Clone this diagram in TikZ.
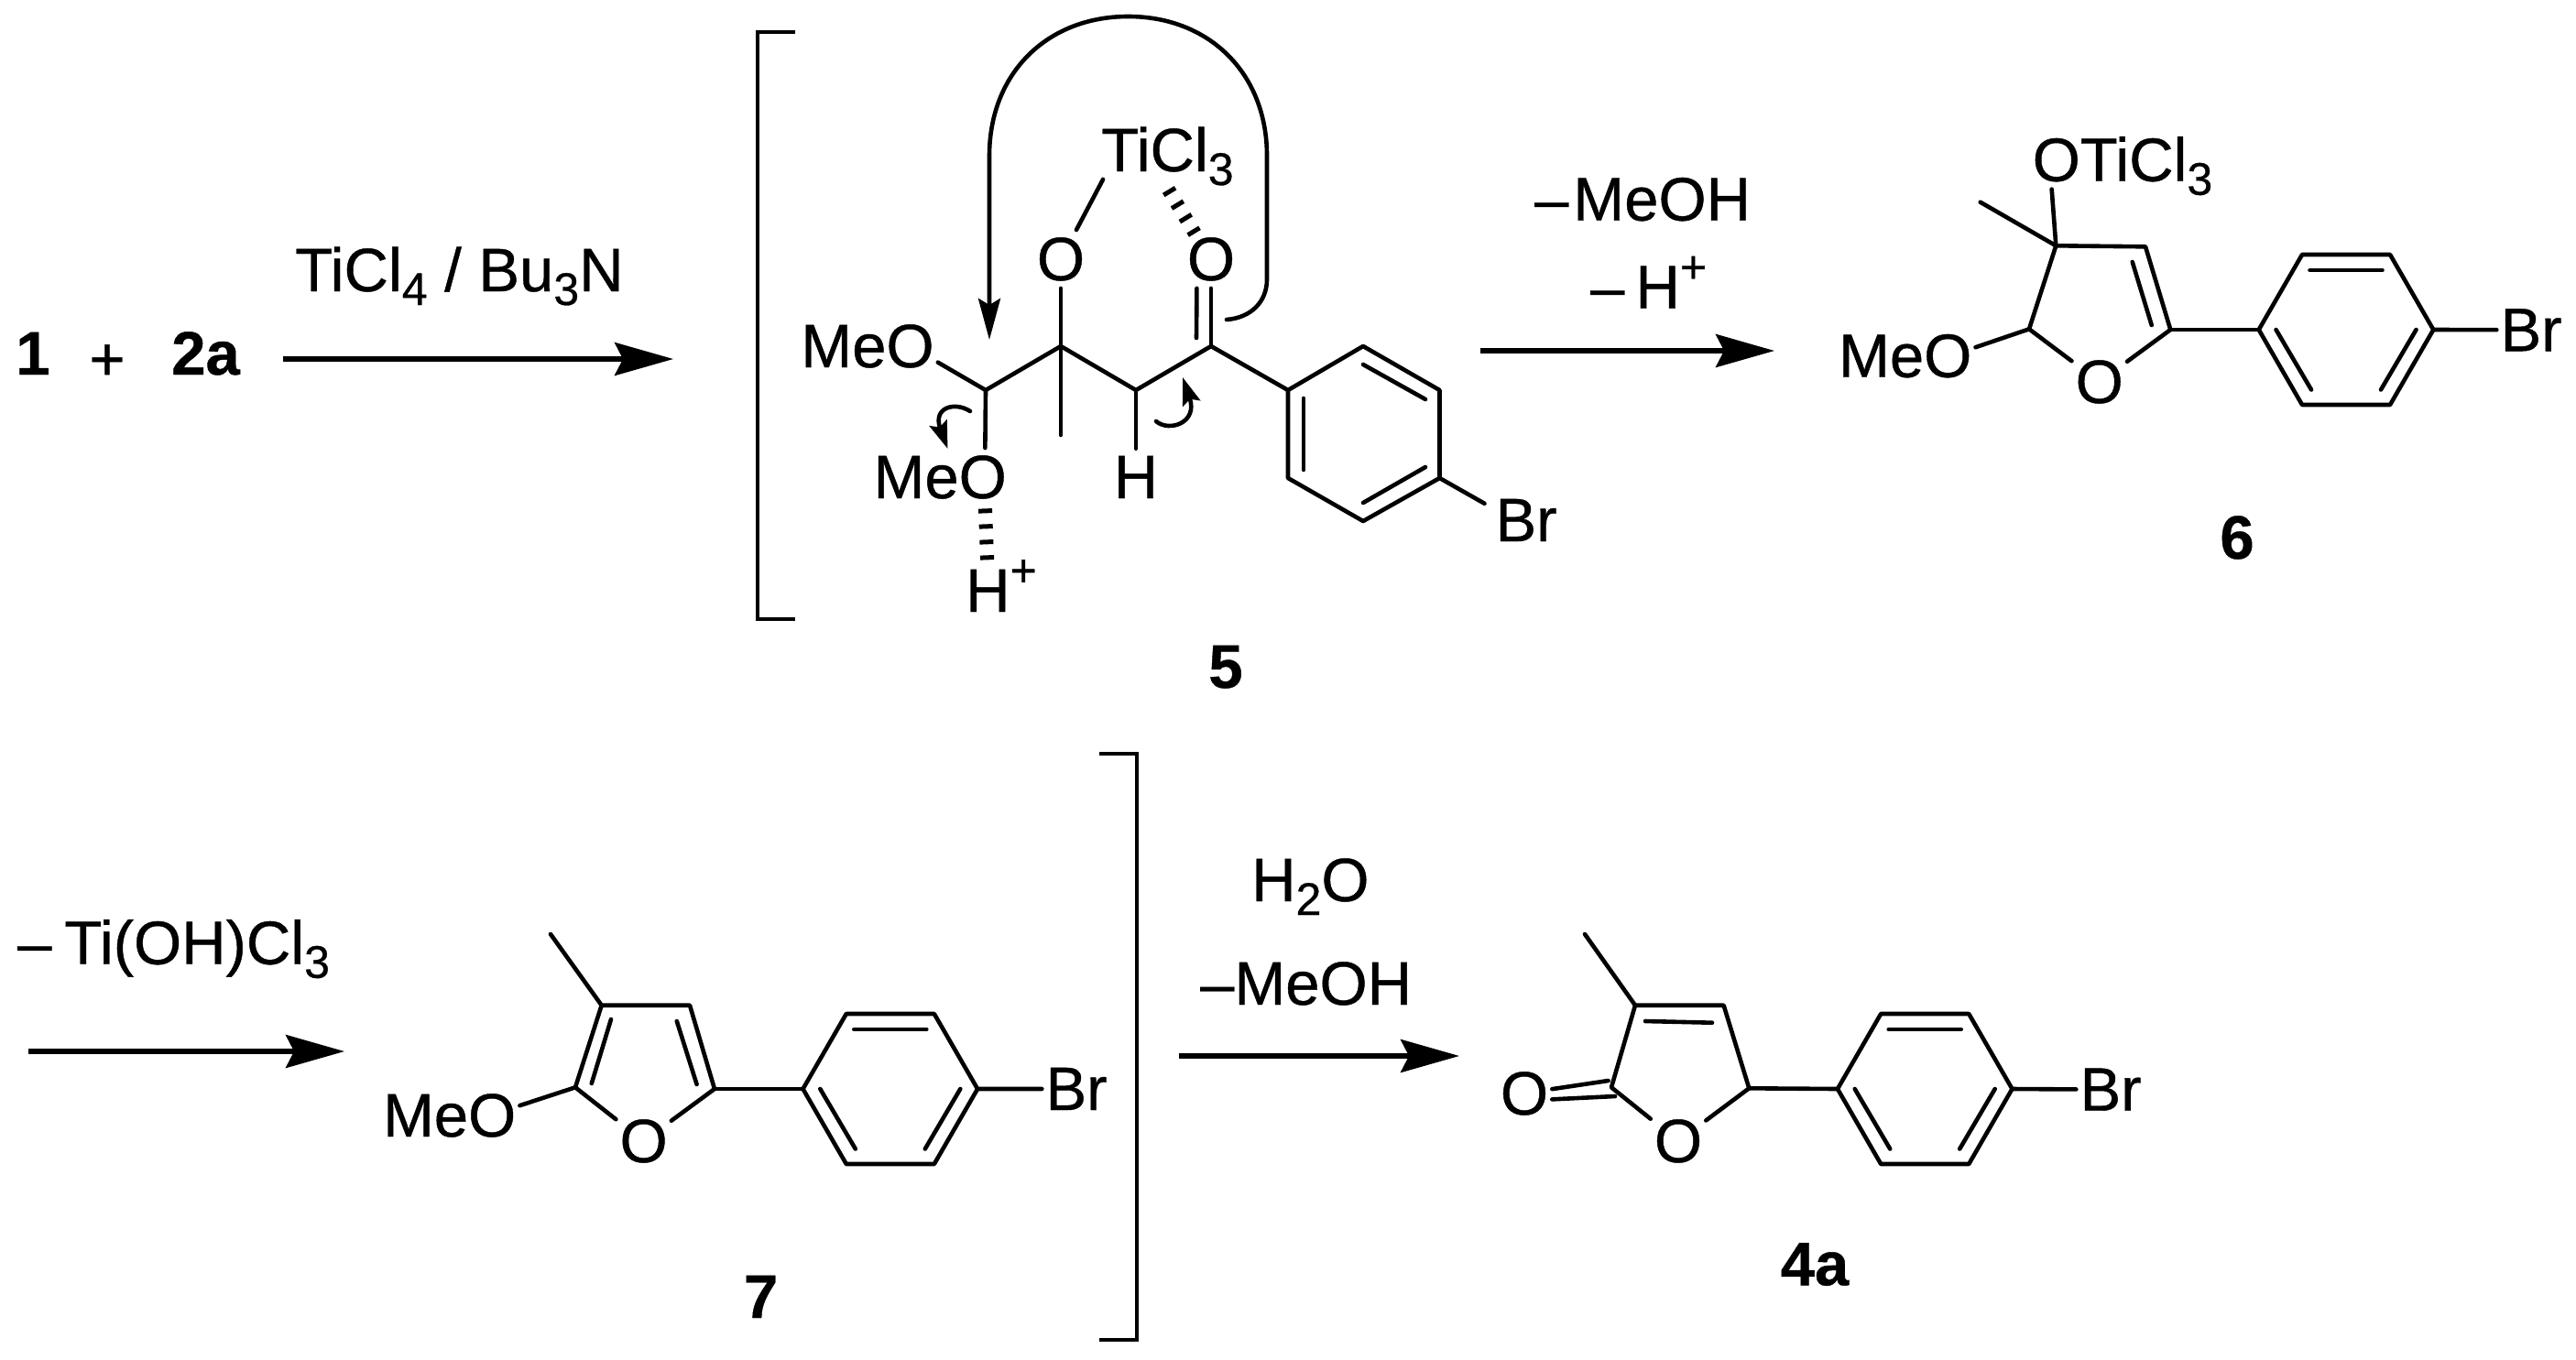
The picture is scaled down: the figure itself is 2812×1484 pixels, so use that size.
\documentclass[tikz,border=0pt]{standalone}
\usepackage{fontspec}
\setmainfont{Liberation Sans}[FakeBold=0.6]
\usetikzlibrary{arrows.meta}
\newcommand{\lowr}[1]{\smash{\raisebox{-15pt}{\fontsize{50}{50}\selectfont #1}}}
\newcommand{\highr}{\smash{\raisebox{28pt}{\fontsize{50}{50}\selectfont +}}}
\newcommand{\flatring}[2]{%
    \begin{scope}[shift={#2}]
        \coordinate (#1_l) at (-95.3,0);
        \coordinate (#1_ul) at (-48,-82);
        \coordinate (#1_ur) at (48,-82);
        \coordinate (#1_r) at (95.3,0);
        \coordinate (#1_lr) at (48,82);
        \coordinate (#1_ll) at (-48,82);
        \coordinate (#1_a) at (-39.5,-65);
        \coordinate (#1_b) at (39.5,-65);
        \coordinate (#1_c) at (-76.5,0);
        \coordinate (#1_d) at (-38,65.5);
        \coordinate (#1_e) at (76.5,0);
        \coordinate (#1_f) at (38,65.5);
    \end{scope}
    \draw[bond] (#1_l) -- (#1_ul) -- (#1_ur) -- (#1_r) -- (#1_lr) -- (#1_ll) -- cycle;
    \path[bond] (#1_a) edge (#1_b) (#1_c) edge (#1_d) (#1_e) edge (#1_f);
}
\tikzset{
    bond/.style={draw,line width=4.6pt,line cap=round,line join=round},
    brk/.style={draw,line width=4.6pt,line join=miter},
    hash/.style={draw,line width=15pt,dash pattern=on 5pt off 12pt},
    rxn/.style={draw,line width=5.2pt,-{Stealth[length=64pt,width=36pt,inset=9pt]}},
    bigarr/.style={draw,line width=4.6pt,line cap=round,-{Stealth[length=45pt,width=24pt,inset=7pt]}},
    curly/.style={draw,line width=4.6pt,line cap=round,-{Stealth[length=30pt,width=20pt,inset=5pt]}},
    atom/.style={font=\fontsize{67}{70}\selectfont,inner xsep=4pt,inner ysep=8pt,anchor=base},
    lab/.style={font=\fontsize{67}{70}\selectfont,inner sep=0pt,anchor=base west},
    num/.style={font=\fontsize{67}{70}\selectfont\bfseries,inner sep=0pt,anchor=base}
}
\begin{document}
\begin{tikzpicture}[x=1pt,y=-1pt]
    \useasboundingbox (0,0) rectangle (2812,1484);

    \node[num] (n_1) at (36,409) {1};
    \node[lab,anchor=base] (plus) at (117,415) {+};
    \node[num] (n_2a) at (224.5,409) {2a};
    \node[lab] (tibu) at (322,318) {TiCl\lowr{4} / Bu\lowr{3}N};
    \coordinate (a_1s) at (309,392);
    \coordinate (a_1e) at (735,392);
    \path[rxn] (a_1s) -- (a_1e);

    \coordinate (bl_1) at (868,35);
    \coordinate (bl_2) at (827,35);
    \coordinate (bl_3) at (827,676);
    \coordinate (bl_4) at (868,676);
    \draw[brk] (bl_1) -- (bl_2) -- (bl_3) -- (bl_4);

    \coordinate (c_1) at (1076,426);
    \coordinate (c_2) at (1158,378);
    \coordinate (c_3) at (1240,426);
    \coordinate (c_4) at (1322,378);
    \coordinate (me_5) at (1158,475);
    \coordinate (dbl_5) at (1306,369);
    \coordinate (p_l) at (1406,426);
    \coordinate (p_t) at (1488,378);
    \coordinate (p_ur) at (1571.5,426);
    \coordinate (p_lr) at (1571.5,522);
    \coordinate (p_b) at (1488,569);
    \coordinate (p_ll) at (1406,522);
    \coordinate (p_a) at (1423,435);
    \coordinate (p_c) at (1423,513);
    \coordinate (p_d) at (1488,398);
    \coordinate (p_e) at (1556,436);
    \coordinate (p_f) at (1488,549);
    \coordinate (p_g) at (1556,510);
    \node[atom] (meo_a) at (947,401) {MeO};
    \node[atom,anchor=base east] (meo_b) at (1103,544) {MeO};
    \node[atom] (o_a) at (1158,306) {O};
    \node[atom] (o_b) at (1322,306) {O};
    \node[atom] (h_5) at (1240,544) {H};
    \node[atom] (hp_5) at (1093,668) {H\highr};
    \node[atom] (br_5) at (1666,591) {Br};
    \node[atom,anchor=base west] (ti_5) at (1198,187) {TiCl\lowr{3}};
    \draw[bond] (meo_a.-13) -- (c_1) -- (c_2) -- (c_3) -- (c_4) -- (p_l);
    \draw[bond] (p_l) -- (p_t) -- (p_ur) -- (p_lr) -- (p_b) -- (p_ll) -- cycle;
    \path[bond]
        (c_1) edge (meo_b.33.4)
        (c_2) edge (me_5)
        (c_2) edge (o_a)
        (c_3) edge (h_5)
        (c_4) edge (o_b)
        (dbl_5) edge (o_b.-116.6)
        (o_a.62) edge (ti_5.205.2)
        (p_a) edge (p_c)
        (p_d) edge (p_e)
        (p_f) edge (p_g);
    \draw[bond,shorten >=9pt] (p_lr) -- (br_5.160);
    \draw[hash,shorten <=13pt,shorten >=-5pt] (ti_5.260) -- (o_b.122.5);
    \draw[hash,shorten <=2.5pt,shorten >=1.5pt] (meo_b.-33.4) -- (hp_5.116.6);

    \coordinate (u_s) at (1339,349);
    \coordinate (u_1) at (1383,305);
    \coordinate (u_2) at (1383,170);
    \coordinate (u_t) at (1231.5,18);
    \coordinate (u_3) at (1080,170);
    \coordinate (u_e) at (1080,371);
    \draw[bigarr] (u_s) .. controls (1365,347) and (1383,330) .. (u_1) -- (u_2)
        .. controls (1383,80) and (1320,18) .. (u_t)
        .. controls (1143,18) and (1080,80) .. (u_3) -- (u_e);
    \coordinate (k_1s) at (1059,449);
    \coordinate (k_1e) at (1034.5,490);
    \draw[curly] (k_1s) .. controls (1042,438) and (1018,445) .. (k_1e);
    \coordinate (k_2s) at (1262,460);
    \coordinate (k_2e) at (1291,412);
    \draw[curly] (k_2s) .. controls (1276,472) and (1308,462) .. (k_2e);
    \node[num] (n_5) at (1338,751) {5};

    \node[lab] (me_h6) at (1675,240.7) {–\kern5pt MeOH};
    \node[lab] (h_6) at (1736,336.7) {–\kern12pt H\highr};
    \coordinate (a_2s) at (1616,383);
    \coordinate (a_2e) at (1937,383);
    \path[rxn] (a_2s) -- (a_2e);

    \coordinate (s_3) at (2244.3,268.3);
    \coordinate (s_4) at (2342,269.3);
    \coordinate (s_5) at (2369.3,360);
    \coordinate (s_2) at (2215,359.3);
    \coordinate (s_me) at (2161.7,220.7);
    \coordinate (s_a) at (2327.7,286);
    \coordinate (s_b) at (2348.7,355);
    \node[atom] (meo_6) at (2079.7,411.7) {MeO};
    \node[atom] (o_6) at (2291.7,440) {O};
    \node[atom,anchor=base west] (oti_6) at (2214.5,197.7) {OTiCl\lowr{3}};
    \flatring{r_6}{(2561,360)}
    \node[atom] (br_6) at (2763,383.3) {Br};
    \draw[bond] (o_6) -- (s_2) -- (s_3) -- (s_4) -- (s_5) -- (o_6);
    \path[bond]
        (s_2) edge (meo_6.7.6)
        (s_3) edge (s_me)
        (s_3) edge (oti_6.203.9)
        (s_a) edge (s_b)
        (s_5) edge (r_6_l)
        (r_6_r) edge (br_6);
    \node[num] (n_6) at (2442,610) {6};

    \node[lab] (ti_7) at (19,1052.7) {–\kern14pt Ti(OH)Cl\lowr{3}};
    \coordinate (a_3s) at (31,1148);
    \coordinate (a_3e) at (376,1148);
    \path[rxn] (a_3s) -- (a_3e);

    \coordinate (f_3) at (656.7,1097.7);
    \coordinate (f_4) at (753,1097.7);
    \coordinate (f_5) at (780,1189);
    \coordinate (f_2) at (628,1187.3);
    \coordinate (f_me) at (601,1020);
    \coordinate (f_a) at (738.8,1115);
    \coordinate (f_b) at (760.6,1184);
    \coordinate (f_c) at (667,1113);
    \coordinate (f_d) at (645.8,1183);
    \node[atom] (meo_7) at (490.6,1241) {MeO};
    \node[atom] (o_7) at (702.6,1269) {O};
    \flatring{r_7}{(971.8,1189)}
    \node[atom] (br_7) at (1175,1212) {Br};
    \draw[bond] (o_7) -- (f_2) -- (f_3) -- (f_4) -- (f_5) -- (o_7);
    \path[bond]
        (f_2) edge (meo_7.8.2)
        (f_3) edge (f_me)
        (f_a) edge (f_b)
        (f_c) edge (f_d)
        (f_5) edge (r_7_l)
        (r_7_r) edge (br_7);
    \node[num] (n_7) at (830.6,1439) {7};

    \coordinate (br_1) at (1200,823);
    \coordinate (br_2) at (1241,823);
    \coordinate (br_3) at (1241,1463);
    \coordinate (br_4) at (1200,1463);
    \draw[brk] (br_1) -- (br_2) -- (br_3) -- (br_4);

    \node[lab] (water) at (1366,984) {H\lowr{2}O};
    \node[lab] (me_4a) at (1310,1097) {–MeOH};
    \coordinate (a_4s) at (1287,1153);
    \coordinate (a_4e) at (1593,1153);
    \path[rxn] (a_4s) -- (a_4e);

    \coordinate (l_3) at (1785,1097.7);
    \coordinate (l_4) at (1881.6,1097.7);
    \coordinate (l_5) at (1909.3,1188.3);
    \coordinate (l_2) at (1759,1187.3);
    \coordinate (l_me) at (1730,1020);
    \coordinate (l_a) at (1796,1115);
    \coordinate (l_b) at (1869,1116.7);
    \coordinate (l_u) at (1755.6,1180);
    \coordinate (l_d) at (1763,1197);
    \node[atom] (o_c) at (1664,1217) {O};
    \node[atom] (o_4a) at (1832,1269) {O};
    \flatring{r_4}{(2101.2,1189)}
    \node[atom] (br_4a) at (2304,1212.7) {Br};
    \draw[bond] (o_4a) -- (l_2) -- (l_3) -- (l_4) -- (l_5) -- (o_4a);
    \path[bond]
        (l_3) edge (l_me)
        (l_a) edge (l_b)
        (o_c.9) edge (l_u)
        (o_c.-12) edge (l_d)
        (l_5) edge (r_4_l)
        (r_4_r) edge (br_4a);
    \node[num] (n_4a) at (1981,1403.3) {4a};
\end{tikzpicture}
\end{document}
